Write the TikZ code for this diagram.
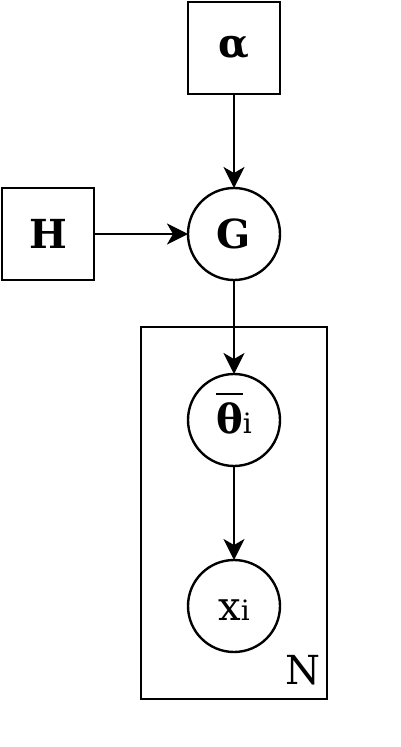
\documentclass[tikz,border=0pt]{standalone}
\usepackage{fontspec}
\setmainfont{DejaVu Serif}
\usetikzlibrary{arrows.meta}
\begin{document}
\begin{tikzpicture}[x=1pt,y=-1pt,
  every node/.style={inner sep=0pt, outer sep=0pt, line width=2.4pt, draw, font=\fontsize{40}{40}\selectfont},
  boxnode/.style={rectangle, minimum width=92pt, minimum height=92pt},
  varnode/.style={circle, minimum size=92pt},
  edge/.style={line width=2.4pt, -{Stealth[length=21pt,width=21pt,inset=6pt]}},
  plate/.style={line width=2.4pt}]
\useasboundingbox (0,0) rectangle (401,747);
\draw[plate] (141,327) rectangle (327,699);
\node[draw=none,font=\fontsize{40}{40}\selectfont, anchor=base east] (N) at (320,684) {N};
\node[boxnode] (alpha) at (234,48) {\textbf{α}};
\node[boxnode] (H) at (48,234) {\textbf{H}};
\node[varnode] (G) at (234,234) {\textbf{G}};
\node[varnode] (theta) at (234,420) {};
\node[draw=none, anchor=base] (thetatext) at (234,433) {\vbox{\hrule height 2.4pt\kern 7pt\hbox{\textbf{θ}}}\fontsize{28}{28}\selectfont i};
\node[varnode] (x) at (234,606) {};
\node[draw=none, anchor=base] (xtext) at (234,620) {x\fontsize{28}{28}\selectfont i};
\draw[edge] (alpha) -- (G);
\draw[edge] (H) -- (G);
\draw[edge] (G) -- (theta);
\draw[edge] (theta) -- (x);
\end{tikzpicture}
\end{document}
